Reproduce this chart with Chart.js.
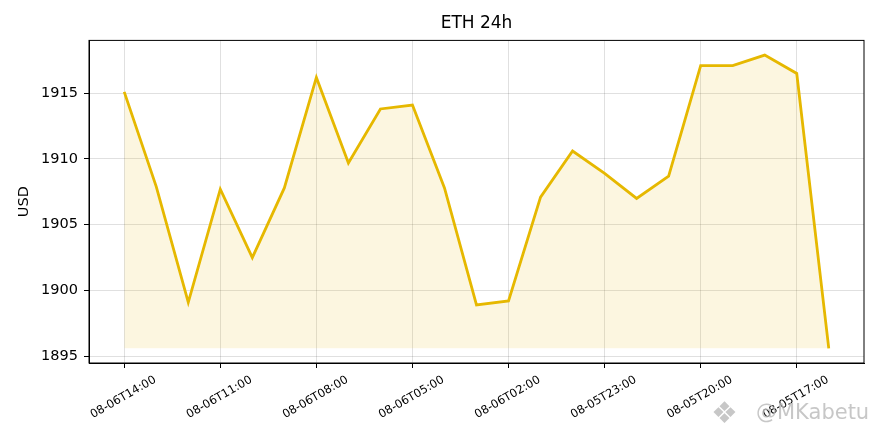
<!DOCTYPE html>
<html>
<head>
<meta charset="utf-8">
<script src="https://cdn.jsdelivr.net/npm/chart.js@4.4.1/dist/chart.umd.min.js"></script>
<style>
  html, body { margin: 0; padding: 0; background: #fff; }
  #wrap { position: relative; width: 880px; height: 440px; }
  .mark {
    position: absolute; font-family: "DejaVu Sans", sans-serif;
    color: rgba(185, 185, 185, 0.8); white-space: nowrap; line-height: 1;
  }
  #logo { left: 711px; top: 398px; font-size: 30px; }
  #handle { left: 756px; top: 402px; font-size: 21px; }
</style>
</head>
<body>
<div id="wrap">
  <canvas id="chart" width="880" height="440"></canvas>
  <div class="mark" id="logo">❖</div>
  <div class="mark" id="handle">@MKabetu</div>
</div>
<script>
// hourly ETH price, newest first
const hours = [
  "08-06T14:00", "08-06T13:00", "08-06T12:00", "08-06T11:00", "08-06T10:00",
  "08-06T09:00", "08-06T08:00", "08-06T07:00", "08-06T06:00", "08-06T05:00",
  "08-06T04:00", "08-06T03:00", "08-06T02:00", "08-06T01:00", "08-06T00:00",
  "08-05T23:00", "08-05T22:00", "08-05T21:00", "08-05T20:00", "08-05T19:00",
  "08-05T18:00", "08-05T17:00", "08-05T16:00"
];
const prices = [
  1915.1, 1907.9, 1899.1, 1907.7, 1902.5, 1907.8, 1916.2, 1909.7, 1913.8, 1914.1,
  1907.8, 1898.9, 1899.2, 1907.1, 1910.6, 1908.9, 1907.0, 1908.7, 1917.1, 1917.1,
  1917.9, 1916.5, 1895.6
];
const yTicks = [1895, 1900, 1905, 1910, 1915];
const xTickIdx = [0, 3, 6, 9, 12, 15, 18, 21];

const lo = Math.min(...prices);
const hi = Math.max(...prices);
const padY = (hi - lo) * 0.05;
const padX = (prices.length - 1) * 0.05;

// full box around the plot, like matplotlib spines
const frame = {
  id: "frame",
  afterDraw(chart) {
    const { ctx, chartArea: a } = chart;
    ctx.save();
    ctx.strokeStyle = "#000";
    ctx.lineWidth = 1;
    ctx.strokeRect(a.left, a.top, a.right - a.left, a.bottom - a.top);
    ctx.restore();
  }
};

new Chart(document.getElementById("chart"), {
  type: "line",
  data: {
    datasets: [{
      data: prices.map((p, i) => ({ x: i, y: p })),
      borderColor: "#e6b800",
      backgroundColor: "rgba(230, 184, 0, 0.12)",
      borderWidth: 2.8,
      pointRadius: 0,
      tension: 0,
      fill: { value: lo }
    }]
  },
  options: {
    responsive: false,
    animation: false,
    layout: { padding: { left: 0, right: 16, top: 0, bottom: 0 } },
    plugins: {
      legend: { display: false },
      tooltip: { enabled: false },
      title: {
        display: true,
        fullSize: false,
        text: "ETH 24h",
        color: "#000",
        font: { family: "DejaVu Sans", size: 17, weight: "normal" },
        padding: { top: 13, bottom: 7 }
      }
    },
    scales: {
      x: {
        type: "linear",
        min: -padX,
        max: prices.length - 1 + padX,
        afterBuildTicks: (s) => { s.ticks = xTickIdx.map((v) => ({ value: v })); },
        afterFit: (s) => { s.height = 77; },
        grid: { color: "rgba(0,0,0,0.12)", tickColor: "#000", tickLength: 5 },
        border: { display: true, color: "#000" },
        ticks: {
          autoSkip: false,
          minRotation: 30,
          maxRotation: 30,
          labelOffset: 31,
          padding: 5,
          color: "#000",
          font: { family: "DejaVu Sans", size: 11.5 },
          callback: (v) => hours[v]
        }
      },
      y: {
        min: lo - padY,
        max: hi + padY,
        afterBuildTicks: (s) => { s.ticks = yTicks.map((v) => ({ value: v })); },
        afterFit: (s) => { s.width = 89; },
        grid: { color: "rgba(0,0,0,0.12)", tickColor: "#000", tickLength: 5 },
        border: { display: true, color: "#000" },
        title: {
          display: true,
          text: "USD",
          color: "#000",
          font: { family: "DejaVu Sans", size: 14.5 },
          padding: { top: 16 }
        },
        ticks: {
          padding: 6,
          color: "#000",
          font: { family: "DejaVu Sans", size: 14.5 },
          callback: (v) => String(v)
        }
      }
    }
  },
  plugins: [frame]
});
</script>
</body>
</html>
